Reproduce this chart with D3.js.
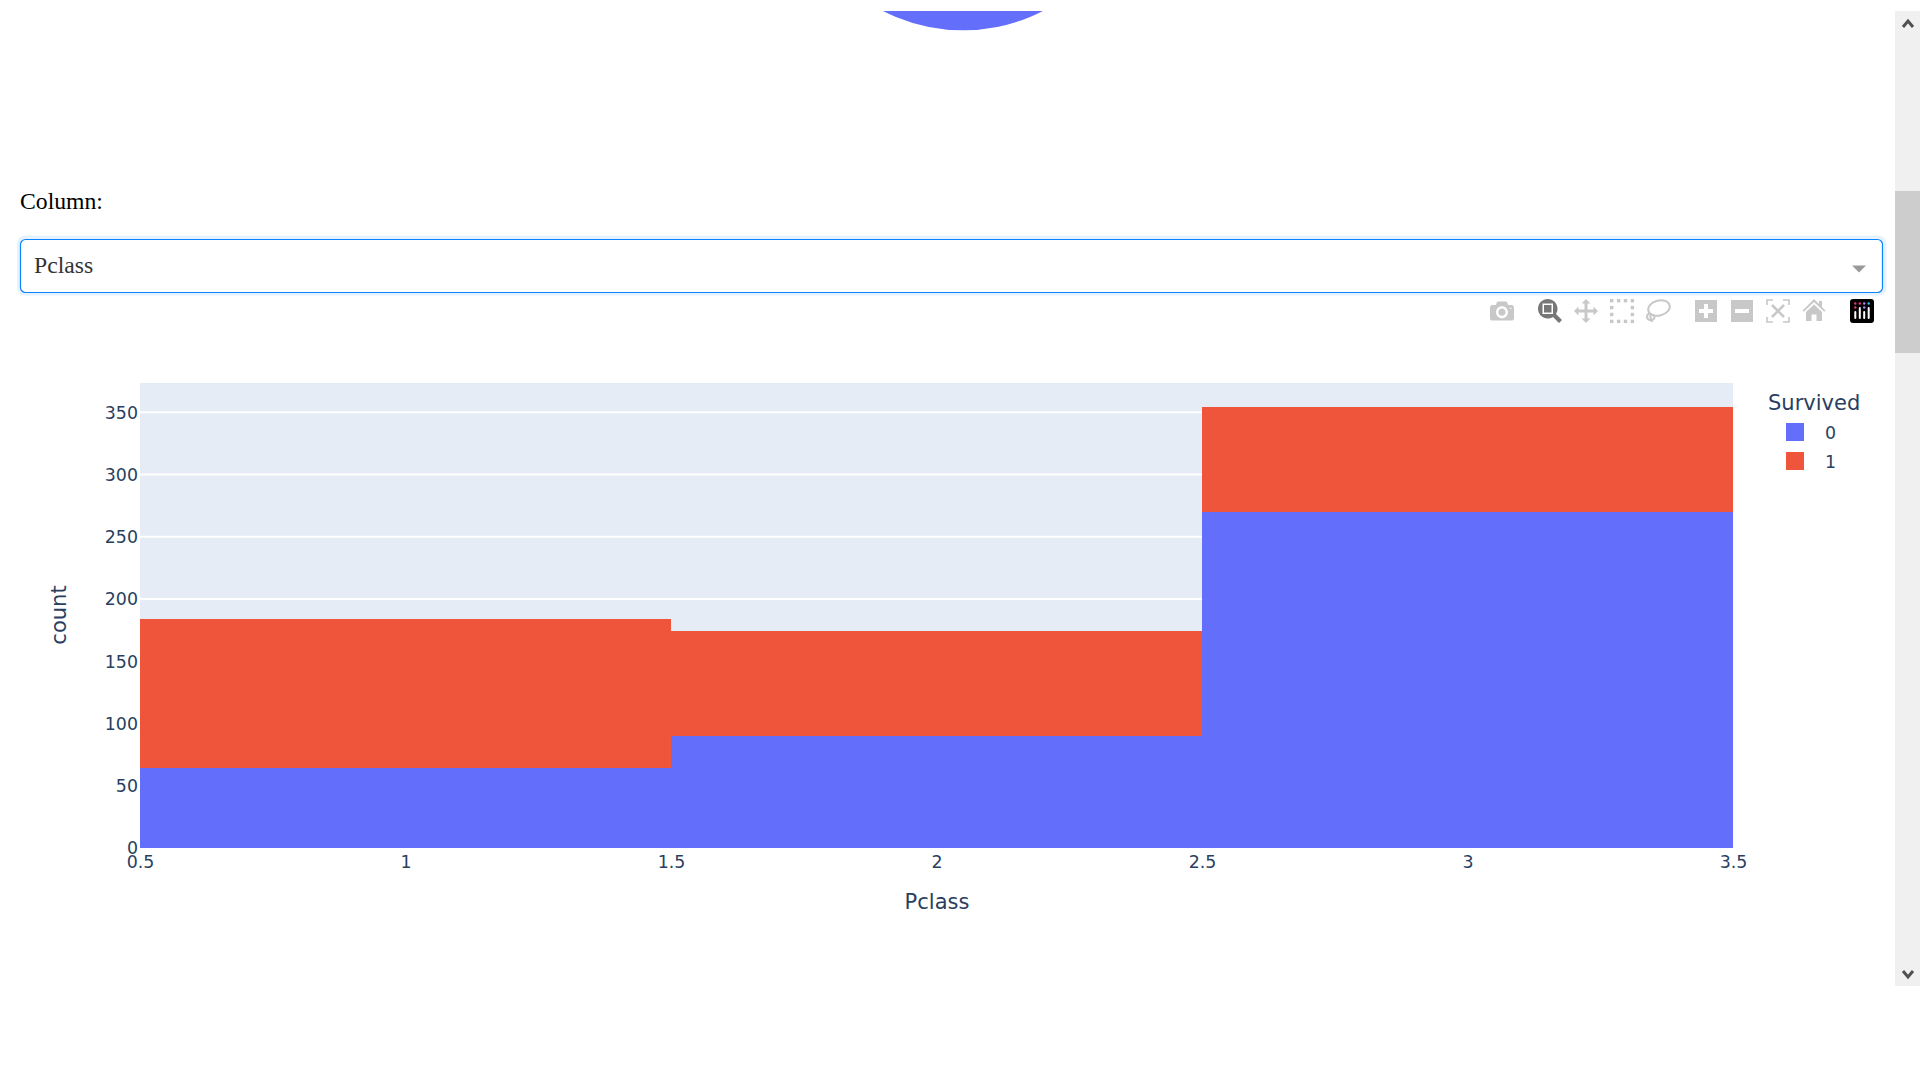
<!DOCTYPE html>
<html>
<head>
<meta charset="utf-8">
<script src="https://cdn.jsdelivr.net/npm/d3@7"></script>
<style>
html,body{margin:0;padding:0;background:#fff;overflow:hidden;width:1920px;height:1080px}
svg{display:block}
</style>
</head>
<body>
<svg id="c" width="1920" height="1080" xmlns="http://www.w3.org/2000/svg"></svg>
<script>
const categories = [1, 2, 3];
const survived0 = [64, 90, 270];
const survived1 = [120, 84, 84];
const seriesNames = ["0", "1"];
const seriesColors = ["#636efa", "#EF553B"];
const xTicks = [0.5, 1, 1.5, 2, 2.5, 3, 3.5];
const yTicks = [0, 50, 100, 150, 200, 250, 300, 350];
const xTitle = "Pclass", yTitle = "count", legendTitle = "Survived";
const selectLabel = "Column:", selectValue = "Pclass";

const svg = d3.select("#c");
const ink = "#2a3f5f", sans = "'DejaVu Sans', Verdana, sans-serif", serif = "'Liberation Serif', serif";
const x = d3.scaleLinear().domain([0.5, 3.5]).range([140, 1733]);
const y = d3.scaleLinear().domain([0, 373.5]).range([848, 383]);

// previous chart's pie, cut off by the scrolled page
svg.append("clipPath").attr("id", "pieClip").append("rect").attr("x", 0).attr("y", 11).attr("width", 1895).attr("height", 100);
svg.append("g").attr("clip-path", "url(#pieClip)").append("path")
  .attr("transform", "translate(963,-145)")
  .attr("fill", seriesColors[0])
  .attr("d", d3.arc()({innerRadius: 0, outerRadius: 175.3, startAngle: 0, endAngle: 2 * Math.PI}));

// dropdown
svg.append("text").attr("x", 20).attr("y", 209).attr("font-family", serif).attr("font-size", 23.7).attr("fill", "#000").text(selectLabel);
svg.append("rect").attr("x", 17).attr("y", 235.5).attr("width", 1869.5).attr("height", 60).attr("rx", 8).attr("fill", "#e5f2ff");
svg.append("rect").attr("x", 20.5).attr("y", 239.5).attr("width", 1862).attr("height", 53).attr("rx", 5).attr("fill", "#fff").attr("stroke", "#0a84ff").attr("stroke-width", 1.2);
svg.append("text").attr("x", 34).attr("y", 273).attr("font-family", serif).attr("font-size", 23.7).attr("fill", "#333").text(selectValue);
svg.append("path").attr("d", "M1852 265.5h14l-7 7z").attr("fill", "#999");

// plot
svg.append("rect").attr("x", 140).attr("y", 383).attr("width", 1593).attr("height", 465).attr("fill", "#E5ECF6");
svg.append("g").selectAll("line").data(yTicks).join("line")
  .attr("x1", 140).attr("x2", 1733).attr("y1", d => y(d)).attr("y2", d => y(d))
  .attr("stroke", "#fff").attr("stroke-width", 1.8);

const rows = categories.map((c, i) => ({c, a: survived0[i], b: survived1[i]}));
const g = svg.append("g").attr("shape-rendering", "crispEdges");
g.selectAll(".s0").data(rows).join("rect").attr("class", "s0")
  .attr("x", d => x(d.c - .5)).attr("width", d => x(d.c + .5) - x(d.c - .5))
  .attr("y", d => y(d.a)).attr("height", d => y(0) - y(d.a)).attr("fill", seriesColors[0]);
g.selectAll(".s1").data(rows).join("rect").attr("class", "s1")
  .attr("x", d => x(d.c - .5)).attr("width", d => x(d.c + .5) - x(d.c - .5))
  .attr("y", d => y(d.a + d.b)).attr("height", d => y(d.a) - y(d.a + d.b)).attr("fill", seriesColors[1]);

const ax = svg.append("g").attr("transform", "translate(0,848)")
  .call(d3.axisBottom(x).tickValues(xTicks).tickFormat(d3.format("~g")).tickSize(0).tickPadding(8));
const ay = svg.append("g").attr("transform", "translate(140,0)")
  .call(d3.axisLeft(y).tickValues(yTicks).tickSize(0).tickPadding(2));
[ax, ay].forEach(a => {
  a.select(".domain").remove();
  a.selectAll("text").attr("font-family", sans).attr("font-size", 17.4).attr("fill", ink);
});
ay.selectAll("text").attr("dy", "0.34em");
svg.append("text").attr("x", 937).attr("y", 909).attr("text-anchor", "middle").attr("font-family", sans).attr("font-size", 21).attr("fill", ink).text(xTitle);
svg.append("text").attr("transform", "translate(66,615) rotate(-90)").attr("text-anchor", "middle").attr("font-family", sans).attr("font-size", 21).attr("fill", ink).text(yTitle);

// legend
svg.append("text").attr("x", 1768).attr("y", 409.5).attr("font-family", sans).attr("font-size", 21).attr("fill", ink).text(legendTitle);
const lg = svg.append("g").selectAll("g").data(seriesNames).join("g").attr("transform", (d, i) => `translate(0,${i * 29})`);
lg.append("rect").attr("x", 1786).attr("y", 423).attr("width", 18).attr("height", 18).attr("fill", (d, i) => seriesColors[i]);
lg.append("text").attr("x", 1825).attr("y", 438.5).attr("font-family", sans).attr("font-size", 17.4).attr("fill", ink).text(d => d);

// modebar
const idle = "#c8c8c8", act = "#777";
function icon(px, py, size, d, fill) {
  svg.append("path").attr("d", d).attr("fill", fill || idle).attr("fill-rule", "evenodd")
    .attr("transform", `translate(${px},${py}) scale(${size / 1000},${-size / 1000}) translate(0,-850)`);
}
icon(1490, 299, 24, "m500 450c-83 0-150-67-150-150 0-83 67-150 150-150 83 0 150 67 150 150 0 83-67 150-150 150z m400 150h-120c-16 0-34 13-39 29l-31 93c-6 15-23 28-40 28h-340c-16 0-34-13-39-28l-31-94c-6-15-23-28-40-28h-120c-55 0-100-45-100-100v-450c0-55 45-100 100-100h800c55 0 100 45 100 100v450c0 55-45 100-100 100z m-400-550c-138 0-250 112-250 250 0 138 112 250 250 250 138 0 250-112 250-250 0-138-112-250-250-250z m365 380c-19 0-35 16-35 35 0 19 16 35 35 35 19 0 35-16 35-35 0-19-16-35-35-35z");
icon(1538, 299, 24, "m1000-25l-250 251c40 63 63 138 63 218 0 224-182 406-407 406-224 0-406-182-406-406s183-406 407-406c80 0 155 22 218 62l250-250 125 125z m-812 250l0 438 437 0 0-438-437 0z m62 375l313 0 0-312-313 0 0 312z", act);
icon(1574, 299, 24, "m1000 350l-187 188 0-125-250 0 0 250 125 0-188 187-187-187 125 0 0-250-250 0 0 125-188-188 186-187 0 125 252 0 0-250-125 0 187-188 188 188-125 0 0 250 250 0 0-126 187 188z");
// box select: dotted square
const selG = svg.append("g").attr("fill", idle);
d3.range(4).forEach(i => d3.range(4).forEach(j => {
  if (i === 0 || i === 3 || j === 0 || j === 3)
    selG.append("rect").attr("x", 1610 + i * 6.9).attr("y", 299 + j * 6.9).attr("width", 3.4).attr("height", 3.4);
}));
// lasso
const las = svg.append("g").attr("fill", "none").attr("stroke", idle).attr("stroke-width", 2);
las.append("ellipse").attr("cx", 1659).attr("cy", 308).attr("rx", 11).attr("ry", 7.5).attr("transform", "rotate(-15 1659 308)");
las.append("path").attr("d", "M1650 313c-4 2-4 6 0 7 4 1 6-3 3-5-2-1-4 1-2 3l1 4");
// plus / minus
svg.append("path").attr("fill", idle).attr("fill-rule", "evenodd").attr("d", "M1695 300h22v22h-22z M1704 304v5h-5v4h5v5h4v-5h5v-4h-5v-5z");
svg.append("path").attr("fill", idle).attr("fill-rule", "evenodd").attr("d", "M1731 300h22v22h-22z M1735 309v4h14v-4z");
// autoscale
const auto = svg.append("g").attr("fill", "none").attr("stroke", idle).attr("stroke-width", 1.6);
auto.append("path").attr("d", "M1767 305v-5h6 M1783 300h6v5 M1789 317v5h-6 M1773 322h-6v-5");
auto.append("path").attr("stroke-width", 2.6).attr("d", "M1772 305l12 12 M1784 305l-12 12");
// home
svg.append("path").attr("fill", idle).attr("d", "M1814 299l5 5v-3h3v6l3.5 3.5-1.2 1.2-10.3-9.8-10.3 9.8-1.2-1.2z M1814 304.5l8 7.5v9h-5.5v-6.5h-5v6.5h-5.5v-9z");
// plotly logo
svg.append("rect").attr("x", 1850).attr("y", 299).attr("width", 24).attr("height", 24).attr("rx", 3).attr("fill", "#000");
const logoDots = [[1855.3,"#e8327c"],[1859.8,"#e8327c"],[1864.2,"#b983ff"],[1868.7,"#35c6ee"]];
const logo = svg.append("g");
logoDots.forEach(([cx, col]) => logo.append("circle").attr("cx", cx).attr("cy", 303.5).attr("r", 1.2).attr("fill", col));
logo.append("circle").attr("cx", 1855.3).attr("cy", 307.5).attr("r", 1.2).attr("fill", "#e8327c");
logo.append("circle").attr("cx", 1864.2).attr("cy", 307.5).attr("r", 1.2).attr("fill", "#b983ff");
[[1855.3,311],[1859.8,307],[1864.2,311],[1868.7,307]].forEach(([bx, top]) =>
  logo.append("rect").attr("x", bx - 1).attr("y", top).attr("width", 2).attr("height", 319 - top).attr("rx", 1).attr("fill", "#fff"));

// scrollbar
svg.append("rect").attr("x", 1895).attr("y", 11).attr("width", 25).attr("height", 975).attr("fill", "#f0f0f0");
svg.append("rect").attr("x", 1895).attr("y", 191).attr("width", 25).attr("height", 162).attr("fill", "#cdcdcd");
const chev = svg.append("g").attr("fill", "none").attr("stroke", "#505050").attr("stroke-width", 3);
chev.append("path").attr("d", "M1903 27l5-6 5 6");
chev.append("path").attr("d", "M1903 971l5 6 5-6");
</script>
</body>
</html>
